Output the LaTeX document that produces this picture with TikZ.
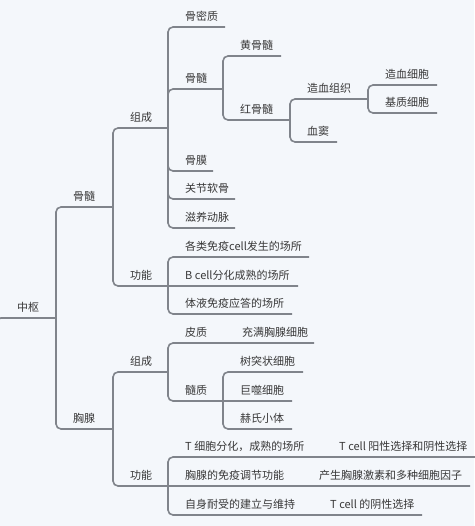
\documentclass[tikz,border=0pt]{standalone}
\usepackage{fontspec}
\newfontfamily\cjk{Noto Sans CJK SC}
\definecolor{bg}{HTML}{F4F7FB}
\definecolor{linegray}{HTML}{80848B}
\definecolor{txtgray}{HTML}{383838}
\tikzset{
	every node/.style={
		font=\cjk\fontsize{11}{13}\selectfont
	},
	topic/.style={
		anchor=base west,
		inner sep=0pt,
		text=txtgray
	},
	branch/.style={
		draw=linegray,
		line width=1.6pt,
		rounded corners=5pt
	},
}

\begin{document}
\begin{tikzpicture}[x=1pt,y=-1pt]
	\fill[bg] (0,0) rectangle (474,526);
	\useasboundingbox (0,0) rectangle (474,526);
	
	% Raiz
	\coordinate (root) at (-4,330);
	\coordinate (zs)   at (56,318);
	\node[topic] (zs-t) at (17,311.5) {中枢};
	
	% Nivel 1
	\coordinate (gs) at (113,207);
	\coordinate (xx) at (113,429);
	\node[topic] (gs-t) at (73,200.5) {骨髓};
	\node[topic] (xx-t) at (73,422.5) {胸腺};
	
	% Medula: composicion y funcion
	\coordinate (gzc) at (168,128);
	\coordinate (ggn) at (168,286);
	\node[topic] (gzc-t) at (130,121.5) {组成};
	\node[topic] (ggn-t) at (130,279.5) {功能};
	
	\coordinate (gmz)  at (225,27);
	\coordinate (gsz)  at (223,89);
	\coordinate (gm)   at (213,171);
	\coordinate (gjrg) at (235,199);
	\coordinate (zydm) at (235,228);
	\node[topic] (gmz-t)  at (185,20.5)  {骨密质};
	\node[topic] (gsz-t)  at (185,82.5)  {骨髓};
	\node[topic] (gm-t)   at (185,164.5) {骨膜};
	\node[topic] (gjrg-t) at (185,192.5) {关节软骨};
	\node[topic] (zydm-t) at (185,221.5) {滋养动脉};
	
	\coordinate (hgs)   at (281,56);
	\coordinate (hongs) at (290,120);
	\node[topic] (hgs-t)   at (240,49.5)  {黄骨髓};
	\node[topic] (hongs-t) at (240,113.5) {红骨髓};
	
	\coordinate (zxzz) at (368,99);
	\coordinate (xd)   at (337,142);
	\node[topic] (zxzz-t) at (307,92.5)  {造血组织};
	\node[topic] (xd-t)   at (307,135.5) {血窦};
	
	\coordinate (zxxb) at (437,85);
	\coordinate (jzxb) at (437,113);
	\node[topic] (zxxb-t) at (385,78.5)  {造血细胞};
	\node[topic] (jzxb-t) at (385,106.5) {基质细胞};
	
	\coordinate (f1) at (309,257);
	\coordinate (f2) at (298,286);
	\coordinate (f3) at (292,314);
	\node[topic] (f1-t) at (185,250.5) {各类免疫cell发生的场所};
	\node[topic] (f2-t) at (185,279.5) {B cell分化成熟的场所};
	\node[topic] (f3-t) at (185,307.5) {体液免疫应答的场所};
	
	% Timo: composicion y funcion
	\coordinate (xzc) at (168,372);
	\coordinate (xgn) at (168,486);
	\node[topic] (xzc-t) at (130,365.5) {组成};
	\node[topic] (xgn-t) at (130,479.5) {功能};
	
	\coordinate (pz) at (225,343);
	\coordinate (cm) at (314,343);
	\coordinate (sz) at (223,401);
	\node[topic] (pz-t) at (185,336.5) {皮质};
	\node[topic] (cm-t) at (242,336.5) {充满胸腺细胞};
	\node[topic] (sz-t) at (185,394.5) {髓质};
	
	\coordinate (st) at (303,372);
	\coordinate (js) at (292,401);
	\coordinate (hs) at (292,429);
	\node[topic] (st-t) at (240,365.5) {树突状细胞};
	\node[topic] (js-t) at (240,394.5) {巨噬细胞};
	\node[topic] (hs-t) at (240,422.5) {赫氏小体};
	
	\coordinate (t1)  at (322,457);
	\coordinate (t1a) at (476,457);
	\coordinate (t2)  at (302,486);
	\coordinate (t2a) at (470,486);
	\coordinate (t3)  at (313,515);
	\coordinate (t3a) at (422,515);
	\node[topic] (t1-t)  at (185,450.5) {T 细胞分化，成熟的场所};
	\node[topic] (t1a-t) at (339,450.5) {T cell 阳性选择和阴性选择};
	\node[topic] (t2-t)  at (185,479.5) {胸腺的免疫调节功能};
	\node[topic] (t2a-t) at (319,479.5) {产生胸腺激素和多种细胞因子};
	\node[topic] (t3-t)  at (185,508.5) {自身耐受的建立与维持};
	\node[topic] (t3a-t) at (330,508.5) {T cell 的阴性选择};
	
	% Ramas
	\path[branch] (root) |- (zs)
	(zs) |- (gs)   (zs) |- (xx)
	(gs) |- (gzc)  (gs) |- (ggn)
	(gzc) |- (gmz) (gzc) |- (gsz) (gzc) |- (gm) (gzc) |- (gjrg) (gzc) |- (zydm)
	(gsz) |- (hgs) (gsz) |- (hongs)
	(hongs) |- (zxzz) (hongs) |- (xd)
	(zxzz) |- (zxxb) (zxzz) |- (jzxb)
	(ggn) |- (f1)  (ggn) -- (f2)  (ggn) |- (f3)
	(xx) |- (xzc)  (xx) |- (xgn)
	(xzc) |- (pz)  (xzc) |- (sz)
	(pz) -- (cm)
	(sz) |- (st)   (sz) -- (js)   (sz) |- (hs)
	(xgn) |- (t1)  (xgn) -- (t2)  (xgn) |- (t3)
	(t1) -- (t1a)  (t2) -- (t2a)  (t3) -- (t3a);
	
\end{tikzpicture}
\end{document}
